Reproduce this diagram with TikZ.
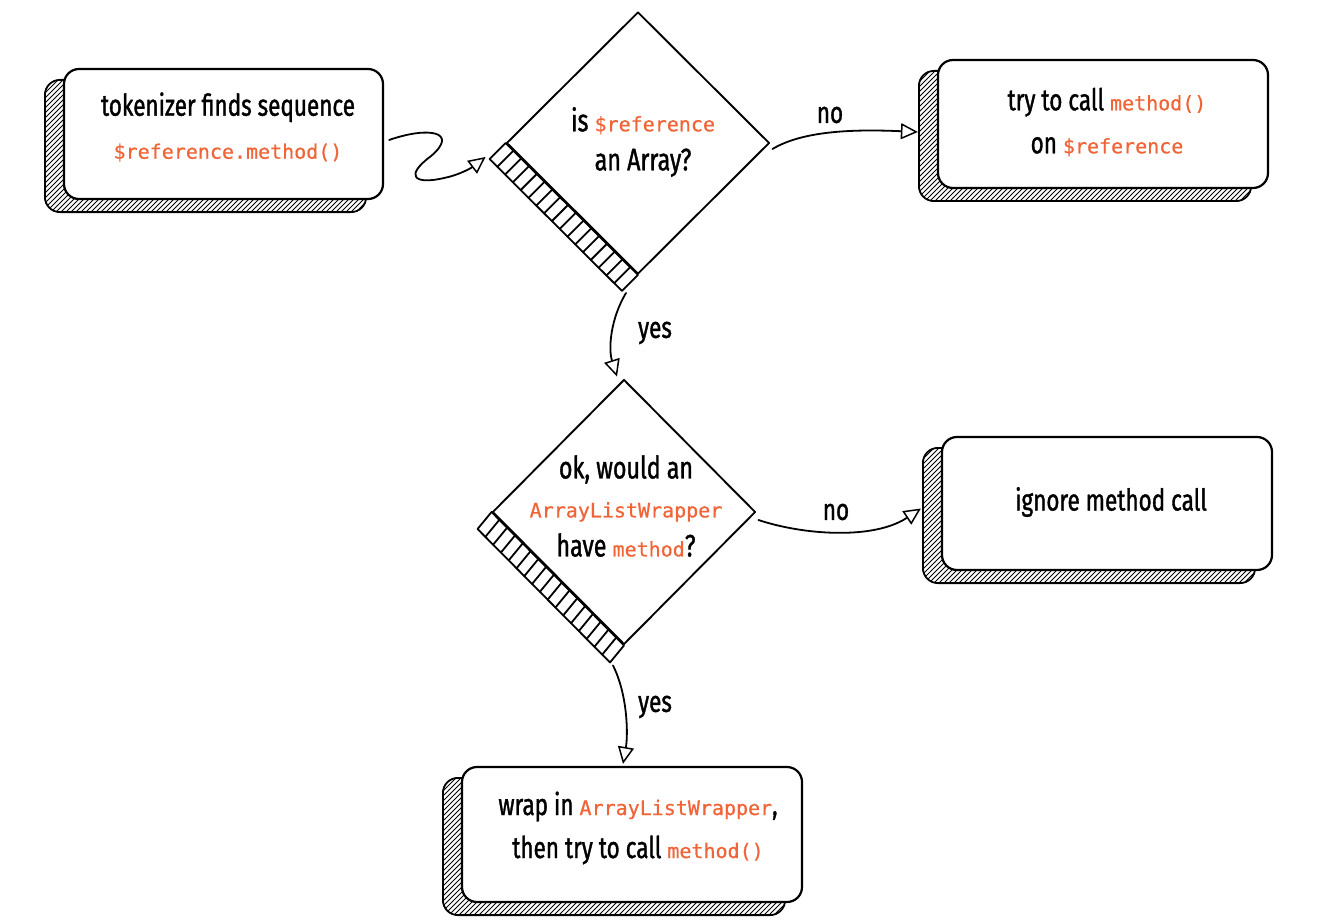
\documentclass[tikz,border=0pt]{standalone}
\usepackage{fontspec}
\setmainfont{Fira Sans}
\newfontfamily\handfont[FakeStretch=0.75,FakeBold=1.2]{Fira Sans}
\newfontfamily\codefont[FakeBold=0.6]{DejaVu Sans Mono}
\usetikzlibrary{shapes.geometric,arrows.meta,calc,backgrounds}
\definecolor{codeorange}{RGB}{240,100,55}
\newcommand\cd[1]{{\codefont\fontsize{20}{22}\selectfont\color{codeorange}#1}}
\newcommand\boxshadow[1]{%
  \begin{scope}
    \path[clip, rounded corners=15pt] ($(#1.south west)+(-18,12)$) rectangle ($(#1.north east)+(-18,12)$);
    \foreach \k in {0,5,...,620}{\draw[hatchline] ($(#1.south west)+(\k-240,20)$) -- ++(220,-220);}
  \end{scope}
  \draw[line width=1.8pt, rounded corners=15pt] ($(#1.south west)+(-18,12)$) rectangle ($(#1.north east)+(-18,12)$);
}
\newcommand\diashadow[3]{%
  \coordinate (#1-sL) at ($(#1.west)+(#2,#3)$);
  \coordinate (#1-sB) at ($(#1.south)+(#2,#3)$);
  \fill[white] (#1.west) -- (#1-sL) -- (#1-sB) -- (#1.south) -- cycle;
  \foreach \k in {1,...,16}{\draw[line width=1.8pt] ($(#1.west)!\k/17!(#1.south)$) -- ++(#2,#3);}
  \draw[line width=1.8pt] (#1.south) -- (#1.west) -- (#1-sL) -- (#1-sB) -- (#1.south);
}
\begin{document}
\begin{tikzpicture}[x=1pt,y=-1pt,line width=1.8pt,line join=round,line cap=round,
  box/.style={draw, fill=white, rounded corners=15pt, inner sep=0pt, line width=2.2pt},
  dia/.style={diamond, draw, fill=white, inner sep=0pt, line width=1.9pt},
  txt/.style={font=\handfont\fontsize{30}{43}\selectfont, align=center, inner sep=0pt},
  dtxt/.style={font=\handfont\fontsize{31}{39}\selectfont, align=center, inner sep=0pt},
  lbl/.style={font=\handfont\fontsize{30}{36}\selectfont, inner sep=0pt},
  hatchline/.style={line width=0.9pt},
  flow/.style={-{Triangle[length=17pt,width=16pt,fill=white,line width=1.5pt]}, line width=1.8pt}]
\useasboundingbox (0,0) rectangle (1334,923);
\begin{pgfonlayer}{background}
  \fill[white] (0,0) rectangle (1334,923);
\end{pgfonlayer}

% boxes
\node[box, minimum width=319pt, minimum height=130pt] (box1) at (223.5,134) {};
\node[box, minimum width=330pt, minimum height=128pt] (box2) at (1103,124) {};
\node[box, minimum width=330pt, minimum height=133pt] (box3) at (1107,503.5) {};
\node[box, minimum width=340pt, minimum height=135pt] (box4) at (632,834.5) {};
\begin{pgfonlayer}{background}
  \boxshadow{box1}
  \boxshadow{box2}
  \boxshadow{box3}
  \boxshadow{box4}
\end{pgfonlayer}

% box texts
\node[txt] (t1) at (228,127) {tokenizer finds sequence\\ \cd{\$reference.method()}};
\node[txt] (t2) at (1107,122) {try to call \cd{method()}\\ on \cd{\$reference}};
\node[txt] (t3) at (1111,502) {ignore method call};
\node[txt] (t4) at (638,828) {wrap in \cd{ArrayListWrapper},\\ then try to call \cd{method()}};

% diamonds
\node[dia, minimum width=263pt, minimum height=262pt] (d1) at (638,143) {};
\node[dia, minimum width=263pt, minimum height=265pt] (d2) at (624,512) {};
\diashadow{d1}{-16}{16}
\diashadow{d2}{-14}{17}
\node[dtxt] (dt1) at (643,142) {is \cd{\$reference}\\ an Array?};
\node[dtxt] (dt2) at (626,506) {ok, would an\\ \cd{ArrayListWrapper}\\ have \cd{method}?};

% connector end points
\coordinate (a1s) at ($(box1.east)+(5,6)$);
\coordinate (a1e) at ($(d1-sL)+(-4,-2)$);
\coordinate (a2s) at ($(d1.east)+(2,6)$);
\coordinate (a2e) at ($(box2.west)+(-19,8)$);
\coordinate (a3s) at ($(d1-sB)+(4,2)$);
\coordinate (a3e) at ($(d2.north)+(-7,-2)$);
\coordinate (a4s) at ($(d2.east)+(2,8)$);
\coordinate (a4e) at ($(box3.west)+(-20,5)$);
\coordinate (a5s) at ($(d2-sB)+(3,3)$);
\coordinate (a5e) at ($(box4.north)+(-9,-2)$);

% connectors
\draw[flow] (a1s) .. controls ($(a1s)+(40,-14)$) and ($(a1s)+(70,-8)$) .. ($(a1s)+(42,16)$)
  .. controls ($(a1s)+(15,36)$) and ($(a1s)+(25,45)$) .. ($(a1s)+(55,38)$)
  .. controls ($(a1s)+(70,35)$) and ($(a1s)+(82,28)$) .. (a1e);
\draw[flow] (a2s) .. controls ($(a2s)+(30,-18)$) and ($(a2s)+(80,-20)$) .. (a2e);
\draw[flow] (a3s) .. controls ($(a3s)+(-15,25)$) and ($(a3s)+(-18,55)$) .. (a3e);
\draw[flow] (a4s) .. controls ($(a4s)+(45,15)$) and ($(a4s)+(115,20)$) .. (a4e);
\draw[flow] (a5s) .. controls ($(a5s)+(15,30)$) and ($(a5s)+(15,70)$) .. (a5e);

% labels
\node[lbl] (l1) at (830,115) {no};
\node[lbl] (l2) at (655,333) {yes};
\node[lbl] (l3) at (836,512) {no};
\node[lbl] (l4) at (655,707) {yes};
\end{tikzpicture}
\end{document}
